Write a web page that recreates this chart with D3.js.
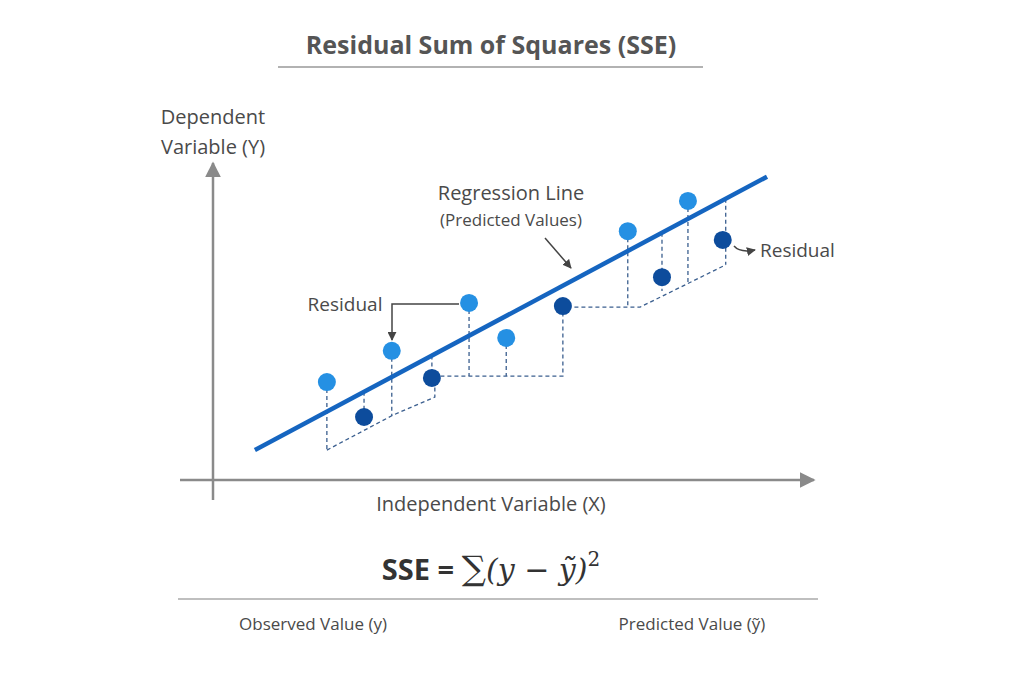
<!DOCTYPE html>
<html><head><meta charset="utf-8">
<script src="https://cdn.jsdelivr.net/npm/d3@7"></script>
<style>body{margin:0;background:#fff}text{font-family:"Open Sans","Noto Sans",sans-serif}</style>
</head><body><svg id="c" width="1024" height="683"></svg>
<script>
// observed points above / below the line
const aboveX = [1.93, 3.03, 4.34, 4.97, 7.03, 8.05];
const aboveY = [3.11, 4.10, 5.62, 4.51, 7.90, 8.86];
const belowX = [2.56, 3.71, 5.93, 7.61, 8.64];
const belowY = [2.00, 3.24, 5.52, 6.44, 7.62];
// regression line y = a + b x
const lineX = [0.71, 9.39];
const intercept = 0.24, slope = 1.0;
// dashed residual path
const pathX = [1.93, 3.05, 3.76, 3.76, 5.93, 5.93, 7.24, 8.69];
const pathY = [0.95, 2.06, 2.63, 3.30, 3.30, 5.49, 5.49, 6.83];
// dashed stems [x, y1, y2]
const stems = [
  [1.93, 3.11, 0.95], [3.03, 4.10, 2.03], [4.34, 5.62, 3.30], [4.97, 4.51, 3.30],
  [7.03, 7.90, 5.49], [8.05, 8.86, 6.20], [2.56, 2.80, 1.70], [3.71, 3.95, 3.24],
  [7.61, 7.85, 6.00], [8.69, 8.93, 6.83]
];

const svg = d3.select('#c');
const x = d3.scaleLinear().domain([0, 10]).range([213, 803]);
const y = d3.scaleLinear().domain([0, 10]).range([480, 165]);
const grey = '#8a8a8a', txt = '#4a4a4a';

// title
svg.append('text').attr('x', 491).attr('y', 54).attr('text-anchor', 'middle')
  .attr('font-size', 25).attr('font-weight', 'bold').attr('fill', '#555').text('Residual Sum of Squares (SSE)');
svg.append('line').attr('x1', 278).attr('x2', 703).attr('y1', 67).attr('y2', 67).attr('stroke', '#999').attr('stroke-width', 1.5);

// arrows
const defs = svg.append('defs');
function marker(id, color, size) {
  defs.append('marker').attr('id', id).attr('viewBox', '0 -5 10 10').attr('refX', 9).attr('refY', 0)
    .attr('orient', 'auto').attr('markerUnits', 'userSpaceOnUse').attr('markerWidth', size).attr('markerHeight', size)
    .append('path').attr('d', 'M0,-5L10,0L0,5Z').attr('fill', color);
}
marker('ag', grey, 16);
marker('ad', '#444', 9);

// axes
svg.append('line').attr('x1', x(0)).attr('x2', x(0)).attr('y1', 500).attr('y2', 163)
  .attr('stroke', grey).attr('stroke-width', 2.5).attr('marker-end', 'url(#ag)');
svg.append('line').attr('x1', 180).attr('x2', 814).attr('y1', y(0)).attr('y2', y(0))
  .attr('stroke', grey).attr('stroke-width', 2.5).attr('marker-end', 'url(#ag)');

svg.append('text').attr('x', 213).attr('y', 124).attr('text-anchor', 'middle').attr('font-size', 20).attr('fill', txt).text('Dependent');
svg.append('text').attr('x', 213).attr('y', 154).attr('text-anchor', 'middle').attr('font-size', 20).attr('fill', txt).text('Variable (Y)');
svg.append('text').attr('x', 491).attr('y', 511).attr('text-anchor', 'middle').attr('font-size', 20).attr('fill', txt).text('Independent Variable (X)');

// dashed guides
const dash = {stroke: '#3b5f8f', 'stroke-width': 1.3, 'stroke-dasharray': '4,3', fill: 'none'};
const pathLine = d3.line().x(d => x(d[0])).y(d => y(d[1]));
const p = svg.append('path').attr('d', pathLine(d3.zip(pathX, pathY)));
Object.entries(dash).forEach(([k, v]) => p.attr(k, v));
stems.forEach(s => {
  const l = svg.append('line').attr('x1', x(s[0])).attr('x2', x(s[0])).attr('y1', y(s[1])).attr('y2', y(s[2]));
  Object.entries(dash).forEach(([k, v]) => l.attr(k, v));
});

// regression line
svg.append('line').attr('x1', x(lineX[0])).attr('y1', y(intercept + slope * lineX[0]))
  .attr('x2', x(lineX[1])).attr('y2', y(intercept + slope * lineX[1]))
  .attr('stroke', '#1565c0').attr('stroke-width', 4.5);

// points
const dots = (xs, ys, fill) => svg.append('g').selectAll('circle').data(d3.zip(xs, ys)).join('circle')
  .attr('cx', d => x(d[0])).attr('cy', d => y(d[1])).attr('r', 9).attr('fill', fill);
dots(aboveX, aboveY, '#2590e3');
dots(belowX, belowY, '#0d4c9c');

// annotations
svg.append('text').attr('x', 511).attr('y', 200).attr('text-anchor', 'middle').attr('font-size', 20).attr('fill', txt).text('Regression Line');
svg.append('text').attr('x', 511).attr('y', 226).attr('text-anchor', 'middle').attr('font-size', 17).attr('fill', txt).text('(Predicted Values)');
svg.append('line').attr('x1', 545).attr('y1', 238).attr('x2', 571).attr('y2', 268).attr('stroke', '#444').attr('stroke-width', 1.5).attr('marker-end', 'url(#ad)');

svg.append('text').attr('x', 345).attr('y', 311).attr('text-anchor', 'middle').attr('font-size', 19).attr('fill', txt).text('Residual');
svg.append('path').attr('d', 'M459,304H392V340').attr('fill', 'none').attr('stroke', '#444').attr('stroke-width', 1.5).attr('marker-end', 'url(#ad)');

svg.append('path').attr('d', 'M734,246Q740,253 755,250').attr('fill', 'none').attr('stroke', '#444').attr('stroke-width', 1.5).attr('marker-end', 'url(#ad)');
svg.append('text').attr('x', 760).attr('y', 257).attr('font-size', 19).attr('fill', txt).text('Residual');

// formula
const f = svg.append('text').attr('x', 491).attr('y', 580).attr('text-anchor', 'middle').attr('fill', '#333');
f.append('tspan').attr('font-weight', 'bold').attr('font-size', 29).text('SSE = ');
f.append('tspan').attr('font-size', 34).attr('font-family', 'DejaVu Serif, serif').text('∑');
f.append('tspan').attr('font-size', 30).attr('font-family', 'DejaVu Serif, serif').attr('font-style', 'italic').text('(y − ỹ)');
f.append('tspan').attr('font-size', 20).attr('font-family', 'DejaVu Serif, serif').attr('dy', -14).text('2');
svg.append('line').attr('x1', 178).attr('x2', 818).attr('y1', 599).attr('y2', 599).attr('stroke', '#aaa').attr('stroke-width', 1.5);
svg.append('text').attr('x', 313).attr('y', 630).attr('text-anchor', 'middle').attr('font-size', 17).attr('fill', txt).text('Observed Value (y)');
svg.append('text').attr('x', 692).attr('y', 630).attr('text-anchor', 'middle').attr('font-size', 17).attr('fill', txt).text('Predicted Value (ỹ)');
</script></body></html>
